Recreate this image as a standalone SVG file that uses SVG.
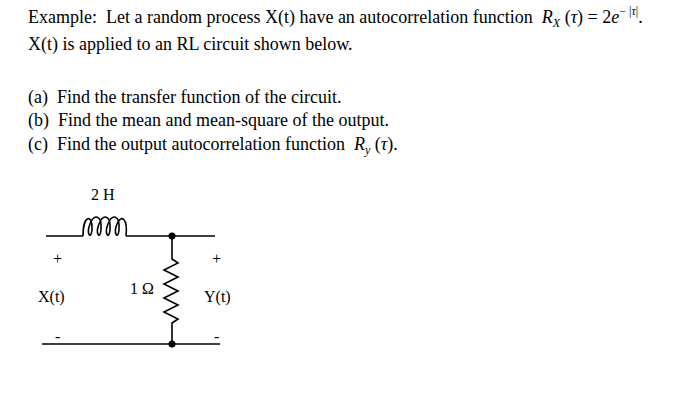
<svg xmlns="http://www.w3.org/2000/svg" width="700" height="417" viewBox="0 0 700 417">
<style>
text{font-family:"Liberation Serif",serif;fill:#000;white-space:pre}
.m{font-size:18px}
.s{font-size:16px}
.w{stroke:#000;stroke-width:1.6;fill:none}
</style>
<rect width="700" height="417" fill="#fff"/>
<g id="text">
<text class="m" x="28" y="23">Example:  Let a random process X(t) have an autocorrelation function  <tspan font-style="italic">R</tspan><tspan font-style="italic" font-size="12" dy="4">X</tspan><tspan dy="-4"> (</tspan><tspan font-style="italic">τ</tspan>)<tspan> = 2</tspan><tspan font-style="italic">e</tspan><tspan font-size="12" dy="-8">− |</tspan><tspan font-style="italic" font-size="12">τ</tspan><tspan font-size="12">|</tspan><tspan dy="8">.</tspan></text>
<text class="m" x="28" y="50">X(t) is applied to an RL circuit shown below.</text>
<text class="m" x="28" y="103">(a)  Find the transfer function of the circuit.</text>
<text class="m" x="28" y="126">(b)  Find the mean and mean-square of the output.</text>
<text class="m" x="28" y="150">(c)  Find the output autocorrelation function  <tspan font-style="italic">R</tspan><tspan font-style="italic" font-size="12" dy="4">y</tspan><tspan dy="-4"> (</tspan><tspan font-style="italic">τ</tspan>).</text>
</g>
<g id="inductor">
<path class="w" d="M46 236H83 M126 236H172"/>
<path class="w" d="M83 236 C83 214 93 214 92 230 C91 240 86 234 90 224 C94 214 102 214 101 230 C100 240 95 234 99 224 C103 214 111 214 110 230 C109 240 104 234 108 224 C112 214 120 214 119 230 C118 240 113 234 117 224 C121 214 128 218 126 236"/>
<text class="s" x="91" y="200">2 H</text>
</g>
<g id="resistor">
<path class="w" d="M172 236V259 L178 263 L164 270 L178 277 L164 284 L178 291 L164 298 L178 305 L164 312 L178 319 L172 323 V344"/>
<text class="s" x="130" y="294">1 Ω</text>
</g>
<g id="connectors">
<path class="w" d="M172 236H215 M42 344H220"/>
<circle cx="172" cy="236" r="3.5"/>
<circle cx="172" cy="344" r="3.5"/>
</g>
<g id="ports">
<text class="s" x="53" y="264">+</text>
<text class="s" x="212" y="264">+</text>
<text class="s" x="38" y="302">X(t)</text>
<text class="s" x="204" y="302">Y(t)</text>
<text class="s" x="55" y="342">-</text>
<text class="s" x="214" y="342">-</text>
</g>
</svg>
